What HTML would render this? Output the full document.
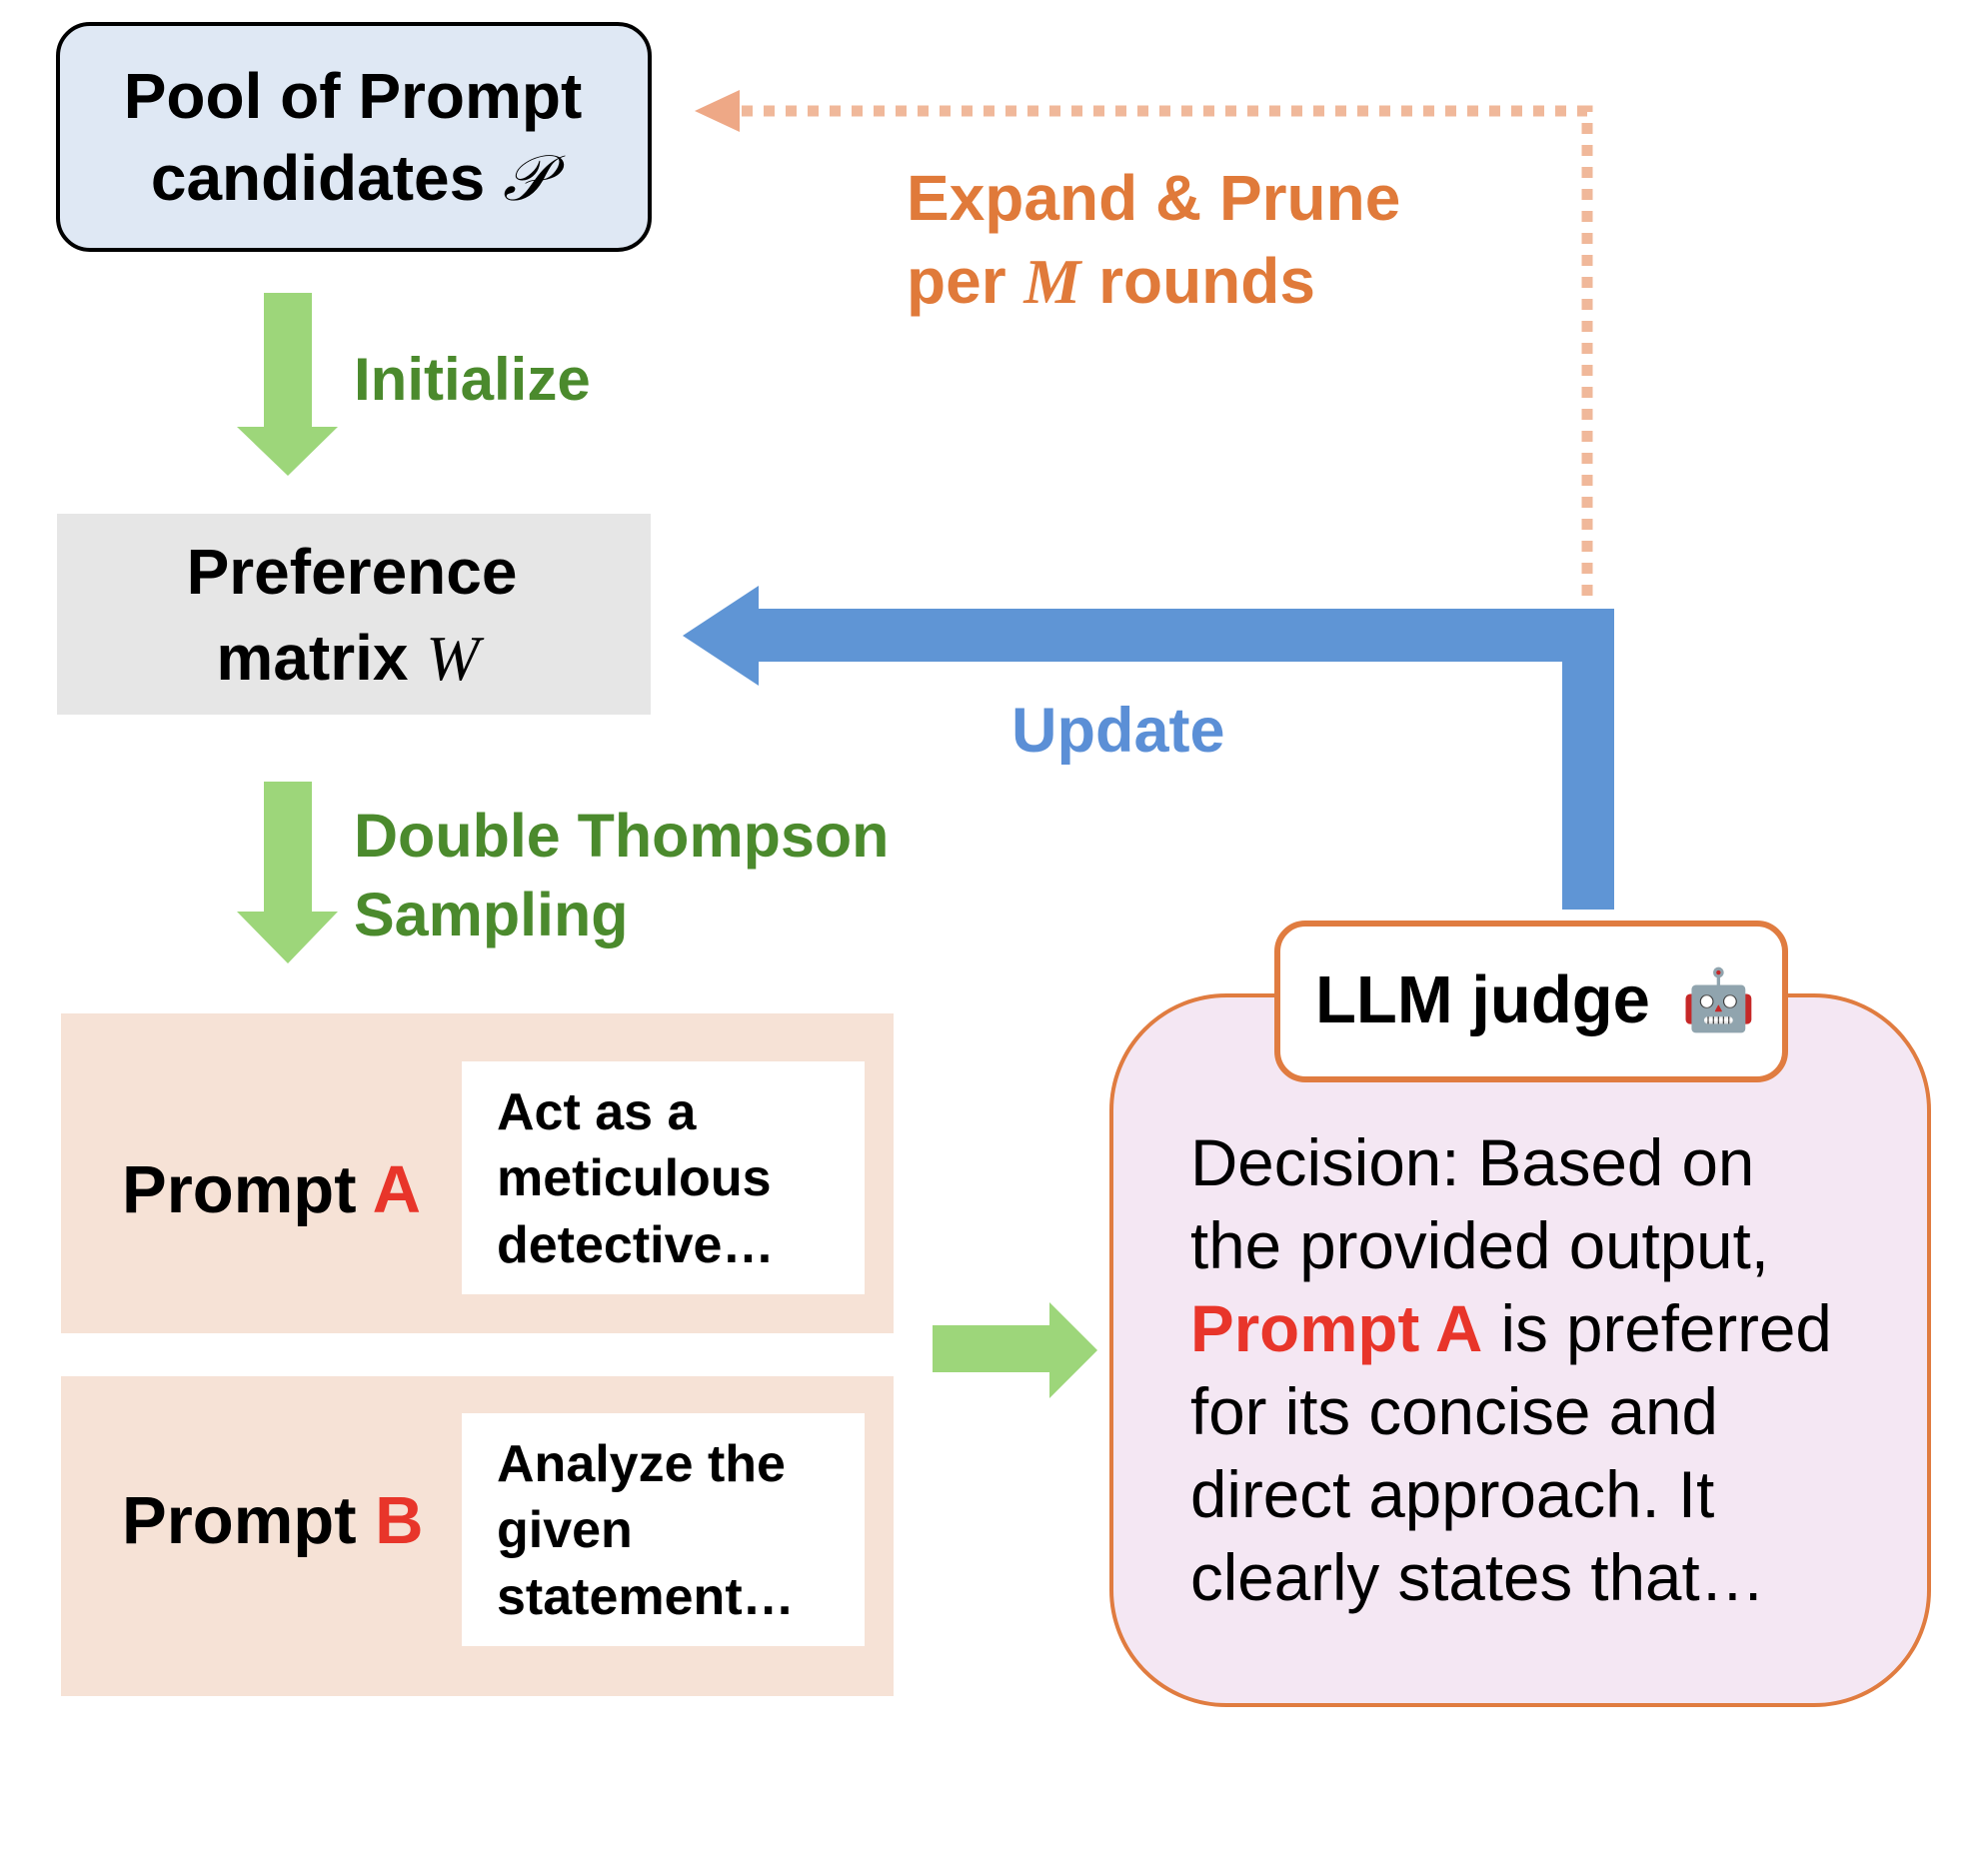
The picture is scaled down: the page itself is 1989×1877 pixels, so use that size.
<!DOCTYPE html>
<html><head><meta charset="utf-8"><style>
html,body{margin:0;padding:0;background:#fff;}
svg{display:block;}
text{font-family:"Liberation Sans",sans-serif;}
.b{font-weight:bold;}
</style></head><body>
<svg width="1989" height="1877" viewBox="0 0 1989 1877" xmlns="http://www.w3.org/2000/svg">
<!-- Pool box -->
<rect x="58" y="24" width="592" height="226" rx="32" fill="#dfe8f4" stroke="#000" stroke-width="4"/>
<text x="353" y="118" text-anchor="middle" class="b" font-size="64">Pool of Prompt</text>
<text x="350" y="200" text-anchor="middle" class="b" font-size="64">candidates <tspan font-family="Liberation Serif" font-style="italic" font-weight="normal">𝒫</tspan></text>

<!-- orange dotted -->
<path d="M742 111 H1588 V600" fill="none" stroke="#f0b89a" stroke-width="11" stroke-dasharray="11 11"/>
<polygon points="695,111 740,90 740,132" fill="#eea886"/>
<text x="907" y="220" class="b" font-size="64" fill="#e07a3a">Expand &amp; Prune</text>
<text x="907" y="303" class="b" font-size="64" fill="#e07a3a">per <tspan font-family="Liberation Serif" font-style="italic">M</tspan> rounds</text>

<!-- green arrow 1 -->
<polygon points="264,293 312,293 312,427 338,427 288,476 237,427 264,427" fill="#9dd67a"/>
<text x="354" y="400" class="b" font-size="60" fill="#4b8a2d">Initialize</text>

<!-- Preference -->
<rect x="57" y="514" width="594" height="201" fill="#e6e6e6"/>
<text x="352" y="594" text-anchor="middle" class="b" font-size="64">Preference</text>
<text x="348" y="680" text-anchor="middle" class="b" font-size="64">matrix <tspan font-family="Liberation Serif" font-style="italic" font-weight="normal">W</tspan></text>

<!-- blue arrow -->
<polygon points="683,636 759,586 759,609 1615,609 1615,910 1563,910 1563,662 759,662 759,686" fill="#5f95d5"/>
<text x="1012" y="752" class="b" font-size="63" fill="#5b8fd6">Update</text>

<!-- green arrow 2 -->
<polygon points="264,782 312,782 312,912 338,912 288,964 237,912 264,912" fill="#9dd67a"/>
<text x="354" y="857" class="b" font-size="61" fill="#4b8a2d">Double Thompson</text>
<text x="354" y="936" class="b" font-size="61" fill="#4b8a2d">Sampling</text>

<!-- Prompt A -->
<rect x="61" y="1014" width="833" height="320" fill="#f6e2d6"/>
<rect x="462" y="1062" width="403" height="233" fill="#fff"/>
<text x="122" y="1213" class="b" font-size="67">Prompt <tspan fill="#e8352a">A</tspan></text>
<text x="497" y="1130" class="b" font-size="52">Act as a</text>
<text x="497" y="1196" class="b" font-size="52">meticulous</text>
<text x="497" y="1263" class="b" font-size="52">detective…</text>

<!-- Prompt B -->
<rect x="61" y="1377" width="833" height="320" fill="#f6e2d6"/>
<rect x="462" y="1414" width="403" height="233" fill="#fff"/>
<text x="122" y="1544" class="b" font-size="67">Prompt <tspan fill="#e8352a">B</tspan></text>
<text x="497" y="1482" class="b" font-size="52">Analyze the</text>
<text x="497" y="1548" class="b" font-size="52">given</text>
<text x="497" y="1615" class="b" font-size="52">statement…</text>

<!-- green right arrow -->
<polygon points="933,1326 1050,1326 1050,1303 1098,1351 1050,1399 1050,1373 933,1373" fill="#9dd67a"/>

<!-- LLM judge output -->
<rect x="1112" y="996" width="818" height="710" rx="115" fill="#f4e7f3" stroke="#e07c40" stroke-width="4"/>
<rect x="1278" y="924" width="508" height="156" rx="28" fill="#fff" stroke="#e07c40" stroke-width="6"/>
<text x="1316" y="1023" class="b" font-size="67">LLM judge</text>
<text x="1682" y="1021" font-size="60" font-family="Noto Color Emoji, DejaVu Sans, sans-serif">🤖</text>
<g font-size="65.5">
<text x="1191" y="1186">Decision: Based on</text>
<text x="1191" y="1269">the provided output,</text>
<text x="1191" y="1352"><tspan fill="#e8352a" font-weight="bold">Prompt A</tspan> is preferred</text>
<text x="1191" y="1435">for its concise and</text>
<text x="1191" y="1518">direct approach. It</text>
<text x="1191" y="1601">clearly states that…</text>
</g>
</svg>
</body></html>
